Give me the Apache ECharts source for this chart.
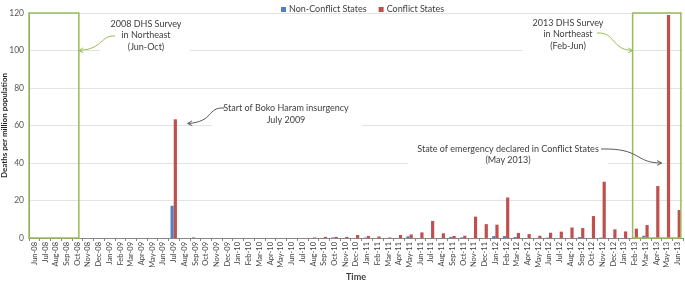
<!DOCTYPE html>
<html>
<head>
<meta charset="utf-8">
<script src="https://cdn.jsdelivr.net/npm/echarts@6/dist/echarts.min.js"></script>
<style>
  html, body { margin: 0; padding: 0; background: #fff; }
  #chart { width: 685px; height: 281px; }
</style>
</head>
<body>
<div id="chart"></div>
<script>
// x轴月份
const months = [
  'Jun-08', 'Jul-08', 'Aug-08', 'Sep-08', 'Oct-08', 'Nov-08', 'Dec-08',
  'Jan-09', 'Feb-09', 'Mar-09', 'Apr-09', 'May-09', 'Jun-09', 'Jul-09', 'Aug-09', 'Sep-09', 'Oct-09', 'Nov-09', 'Dec-09',
  'Jan-10', 'Feb-10', 'Mar-10', 'Apr-10', 'May-10', 'Jun-10', 'Jul-10', 'Aug-10', 'Sep-10', 'Oct-10', 'Nov-10', 'Dec-10',
  'Jan-11', 'Feb-11', 'Mar-11', 'Apr-11', 'May-11', 'Jun-11', 'Jul-11', 'Aug-11', 'Sep-11', 'Oct-11', 'Nov-11', 'Dec-11',
  'Jan-12', 'Feb-12', 'Mar-12', 'Apr-12', 'May-12', 'Jun-12', 'Jul-12', 'Aug-12', 'Sep-12', 'Oct-12', 'Nov-12', 'Dec-12',
  'Jan-13', 'Feb-13', 'Mar-13', 'Apr-13', 'May-13', 'Jun-13',
]

// deaths per million population
const nonConflict = [
  0, 0, 0, 0, 0, 0, 0, 0, 0, 0,
  0, 0, 0, 17.2, 0, 0.3, 0, 0, 0, 0,
  0, 0, 0, 0, 0, 0, 0, 0, 0.3, 0,
  0, 0.2, 0, 0, 0, 0.9, 0, 0, 0, 0.6,
  0.3, 0, 0, 1.0, 1.0, 0.5, 0, 0, 0.2, 0,
  0, 0.5, 0, 0.2, 0, 0, 0, 1.2, 0, 0,
  0,
]
const conflict = [
  0, 0, 0, 0, 0, 0, 0, 0, 0, 0,
  0, 0, 0, 63.3, 0, 0, 0, 0, 0, 0,
  0, 0, 0, 0, 0, 0, 0.3, 0.6, 0.6, 0.6,
  1.6, 1.1, 0.8, 0.3, 1.6, 1.9, 3.0, 9.1, 2.5, 1.1,
  1.2, 11.4, 7.4, 7.1, 21.6, 2.7, 2.1, 1.2, 2.8, 3.4,
  5.6, 5.3, 11.7, 30.0, 4.6, 3.5, 5.0, 6.9, 27.7, 119,
  14.9,
]

const yTicks = [0, 20, 40, 60, 80, 100, 120]

const FONT = 'Lato, "Open Sans", sans-serif'
const GREEN = '#9bbb59'
const TEXT = '#404040'

const chart = echarts.init(document.getElementById('chart'))

chart.setOption({
  animation: false,
  color: ['#4f81bd', '#c0504d'],
  textStyle: { fontFamily: FONT },
  legend: {
    data: ['Non-Conflict States', 'Conflict States'],
    top: 0,
    left: 276,
    icon: 'rect',
    itemWidth: 5,
    itemHeight: 5,
    itemGap: 12,
    textStyle: { fontSize: 9, color: TEXT, fontFamily: FONT, padding: [0, 0, 0, -2] },
  },
  grid: { left: 29, right: 2, top: 13, bottom: 43, containLabel: false, outerBoundsMode: 'none' },
  xAxis: {
    type: 'category',
    data: months,
    name: 'Time',
    nameLocation: 'middle',
    nameGap: 35,
    nameMoveOverlap: false,
    nameTextStyle: { fontSize: 9, fontWeight: 'bold', color: TEXT, fontFamily: FONT },
    axisLine: { lineStyle: { color: '#868686', width: 1 } },
    axisTick: { show: true, interval: 0, length: 3, lineStyle: { color: '#868686' } },
    axisLabel: { interval: 0, rotate: 90, fontSize: 7.5, color: '#404040', margin: 4, fontFamily: FONT, hideOverlap: false },
  },
  yAxis: {
    type: 'value',
    min: yTicks[0],
    max: yTicks[yTicks.length - 1],
    interval: 20,
    name: 'Deaths per million population',
    nameLocation: 'middle',
    nameRotate: 90,
    nameGap: 21,
    nameMoveOverlap: false,
    nameTextStyle: { fontSize: 8, fontWeight: 'bold', color: '#262626', fontFamily: FONT },
    axisLine: { show: true, lineStyle: { color: '#868686' } },
    axisTick: { show: false },
    axisLabel: { fontSize: 8.5, color: '#595959', margin: 5, fontFamily: FONT },
    splitLine: { lineStyle: { color: '#e3e3e3', width: 1 } },
  },
  series: [
    { name: 'Non-Conflict States', type: 'bar', data: nonConflict, barWidth: 3.2, barGap: '0%' },
    { name: 'Conflict States', type: 'bar', data: conflict, barWidth: 3.2, barGap: '0%' },
  ],
})

// 注释：调查框、箭头、说明文字
const p = (cat, v) => chart.convertToPixel({ gridIndex: 0 }, [cat, v])
const bw = p('Jul-08', 0)[0] - p('Jun-08', 0)[0]
const yTop = p('Jun-08', 120)[1]
const yBot = p('Jun-08', 0)[1]

function box(fromCat, toCat, padL, padR) {
  const x1 = p(fromCat, 0)[0] - padL * bw
  const x2 = p(toCat, 0)[0] + padR * bw
  return {
    type: 'rect',
    z: 20,
    shape: { x: x1, y: yTop, width: x2 - x1, height: yBot - yTop },
    style: { fill: null, stroke: GREEN, lineWidth: 1.5 },
  }
}

function arrow(from, c1, c2, tip, color) {
  const ang = Math.atan2(tip[1] - c2[1], tip[0] - c2[0])
  const len = 5
  const a1 = [tip[0] - len * Math.cos(ang - 0.5), tip[1] - len * Math.sin(ang - 0.5)]
  const a2 = [tip[0] - len * Math.cos(ang + 0.5), tip[1] - len * Math.sin(ang + 0.5)]
  return [
    {
      type: 'bezierCurve',
      z: 22,
      shape: { x1: from[0], y1: from[1], cpx1: c1[0], cpy1: c1[1], cpx2: c2[0], cpy2: c2[1], x2: tip[0], y2: tip[1] },
      style: { stroke: color, lineWidth: 1, fill: null },
    },
    {
      type: 'polyline',
      z: 22,
      shape: { points: [a1, tip, a2] },
      style: { stroke: color, lineWidth: 1, fill: null },
    },
  ]
}

function note(text, cx, top, lh) {
  return {
    type: 'text',
    z: 23,
    x: cx,
    y: top,
    style: { text, font: '9px ' + FONT, fill: TEXT, align: 'center', verticalAlign: 'top', lineHeight: lh },
  }
}

function blank(x, y, w, h) {
  return { type: 'rect', z: 15, shape: { x, y, width: w, height: h }, style: { fill: '#fff' } }
}

const tip1 = [p('Oct-08', 0)[0] + 0.15 * bw, p('Oct-08', 100)[1]]
const tip2 = [p('Jul-09', 0)[0] + 1.3 * bw, p('Jul-09', 60)[1] - 2]
const tip3 = [p('May-13', 0)[0] - 0.5 * bw, p('May-13', 40)[1]]
const tip4 = [p('Feb-13', 0)[0] - 0.2 * bw, p('Feb-13', 100)[1]]

chart.setOption({
  graphic: [
    blank(100, 16, 90, 38),
    blank(212, 101, 150, 26),
    blank(408, 142, 200, 25),
    blank(523, 16, 107, 38),
    box('Jun-08', 'Oct-08', 0.5, 0.15),
    box('Feb-13', 'Jun-13', 0.2, 0.3),
    note('2008 DHS Survey\nin Northeast\n(Jun-Oct)', 146, 18, 11.5),
    note('Start of Boko Haram insurgency\nJuly 2009', 286, 102, 12),
    note('State of emergency declared in Conflict States\n(May 2013)', 508, 143, 11.5),
    note('2013 DHS Survey\nin Northeast\n(Feb-Jun)', 568, 17, 11.5),
    ...arrow([115, 36], [100, 35], [104, 49], tip1, GREEN),
    ...arrow([224, 108], [207, 107], [214, 122], tip2, '#595959'),
    ...arrow([601, 149], [642, 148], [634, 163], tip3, '#595959'),
    ...arrow([597, 33], [616, 32], [611, 50], tip4, GREEN),
  ],
})
</script>
</body>
</html>
